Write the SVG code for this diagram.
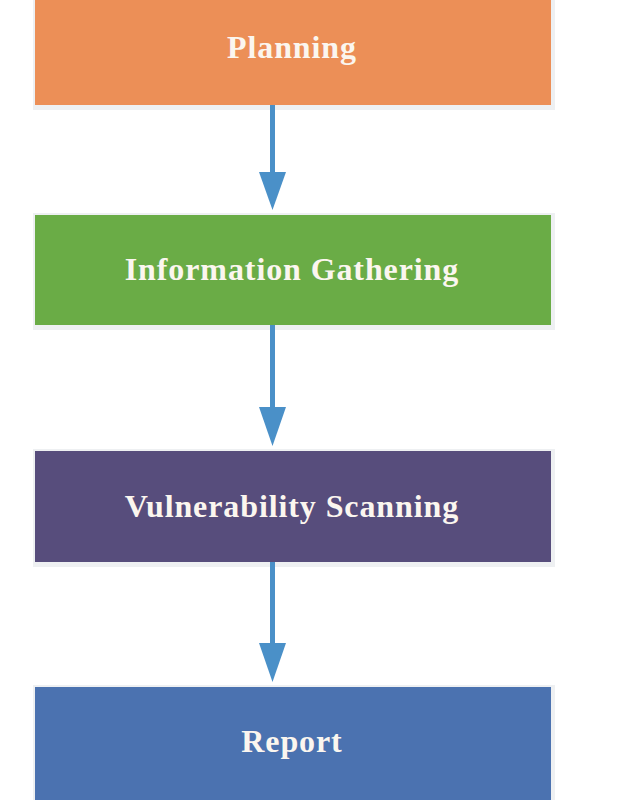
<svg xmlns="http://www.w3.org/2000/svg" width="639" height="800" viewBox="0 0 639 800">
<style>
.lbl{font-family:"Liberation Serif","Times New Roman",serif;font-weight:bold;font-size:32px;fill:#fbf6ef;text-anchor:middle;letter-spacing:0.9px}
.shadow{fill:#eef0f2}
.conn line{stroke:#4a90c8;stroke-width:5}
.conn polygon{fill:#4a90c8}
</style>
<rect width="639" height="800" fill="#ffffff"/>
<g id="planning">
<rect class="shadow" x="33" y="0" width="522" height="110"/>
<rect x="35" y="0" width="516" height="105" fill="#ec8f57"/>
<text class="lbl" x="292" y="58">Planning</text>
</g>
<g id="information-gathering">
<rect class="shadow" x="33" y="213" width="522" height="117"/>
<rect x="35" y="215" width="516" height="110" fill="#6aac46"/>
<text class="lbl" x="292" y="280">Information Gathering</text>
</g>
<g id="vulnerability-scanning">
<rect class="shadow" x="33" y="449" width="522" height="118"/>
<rect x="35" y="451" width="516" height="111" fill="#574d7c"/>
<text class="lbl" x="292" y="517">Vulnerability Scanning</text>
</g>
<g id="report">
<rect class="shadow" x="33" y="685" width="522" height="115"/>
<rect x="35" y="687" width="516" height="113" fill="#4b72b0"/>
<text class="lbl" x="292" y="752">Report</text>
</g>
<g id="connectors" class="conn">
<line x1="272.5" y1="105" x2="272.5" y2="175"/>
<polygon points="259,172 286,172 272.5,210"/>
<line x1="272.5" y1="325" x2="272.5" y2="410"/>
<polygon points="259,407 286,407 272.5,446"/>
<line x1="272.5" y1="562" x2="272.5" y2="646"/>
<polygon points="259,643 286,643 272.5,682"/>
</g>
</svg>
